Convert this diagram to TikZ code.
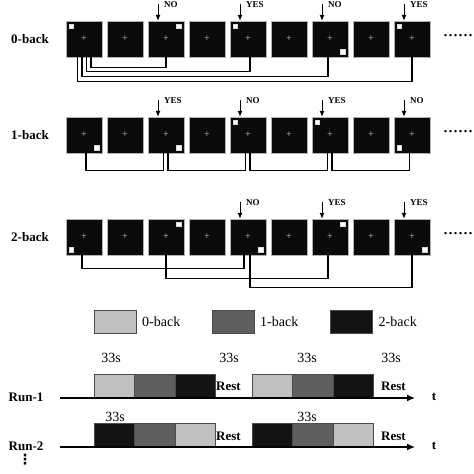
\documentclass[tikz,border=0pt]{standalone}
\usepackage{fontspec}
\setmainfont{Liberation Serif}
\newfontfamily\symfont{DejaVu Sans}
\usetikzlibrary{arrows.meta,positioning,calc}
\definecolor{zeroback}{HTML}{C0C0C0}
\definecolor{oneback}{HTML}{5F5F5F}
\definecolor{twoback}{HTML}{131313}

\begin{document}
\begin{tikzpicture}[
      x = 1pt,y = -1pt,
      frame/.style = {rectangle,draw = gray!60,fill = black!96,minimum size = 36pt,inner sep = 0,text = gray!85,font = \bfseries\fontsize{10}{10}\selectfont},
      dotbox/.style = {rectangle,fill = white,draw = gray!30,minimum size = 4.5pt,inner sep = 0},
      cue/.style = {-{Latex[length = 6pt,width = 5pt]},line width = 1pt},
      ans/.style = {font = \bfseries\fontsize{9}{9}\selectfont,anchor = west,inner sep = 0},
      link/.style = {line width = 1.2pt},
      rowname/.style = {font = \bfseries\fontsize{13}{13}\selectfont},
      key/.style = {rectangle,draw = black!70,minimum height = 23pt,minimum width = 42pt,inner sep = 0},
      block/.style = {rectangle,draw = black!70,minimum height = 23.5pt,minimum width = 40.33pt,inner sep = 0,anchor = south west},
      plain/.style = {font = \fontsize{14}{14}\selectfont},
      rest/.style = {font = \bfseries\fontsize{13}{13}\selectfont,anchor = west,inner sep = 0},
      axis/.style = {-{Latex[length = 8pt,width = 7pt]},line width = 1.3pt}
      ]
      \useasboundingbox (0,0) rectangle (474,474);

      \foreach \r/\y in {0/39,1/135,2/237} {
        \node (name\r)[rowname] at (30,\y) {\r-back};
        \foreach \i in {1,...,9}
          \node (s\r-\i)[frame] at ({84+41*(\i-1)},\y) {+};
        \node (more\r)[anchor = base west,inner sep = 0,font = \fontsize{20}{20}\selectfont] at (443,\y-3) {......};
      }

      \foreach \n/\a/\dx/\dy in {s0-1/north west/5.5/5.5, s0-3/north east/-5.5/5.5, s0-5/north west/5.5/5.5,
          s0-7/south east/-5.5/-5.5, s0-9/north west/5.5/5.5,
          s1-1/south east/-5.5/-5.5, s1-3/south east/-5.5/-5.5, s1-5/north west/5.5/5.5,
          s1-7/north west/5.5/5.5, s1-9/south west/5.5/-5.5,
          s2-1/south west/5.5/-5.5, s2-3/north east/-5.5/5.5, s2-5/south east/-5.5/-5.5,
          s2-7/north east/-5.5/5.5, s2-9/south east/-5.5/-5.5}
        \node[dotbox] at ([shift = {(\dx,\dy)}]\n.\a) {};

      \foreach \n/\t in {s0-3/NO,s0-5/YES,s0-7/NO,s0-9/YES,s1-3/YES,s1-5/NO,s1-7/YES,s1-9/NO,s2-5/NO,s2-7/YES,s2-9/YES} {
        \coordinate (\n-cue) at ([shift = {(-8,-17)}]\n.north);
        \draw[cue] (\n-cue) -- (\n.north -| \n-cue);
        \node[ans] at ([shift = {(6,1)}]\n-cue) {\t};
      }

      \draw[link] ([xshift = 7pt]s0-1.south) -- ++(0,10) -| (s0-3.south);
      \draw[link] ([xshift = 2.7pt]s0-1.south) -- ++(0,14) -| ([xshift = 2pt]s0-5.south);
      \draw[link] ([xshift = -2pt]s0-1.south) -- ++(0,19) -| ([xshift = -2pt]s0-7.south);
      \draw[link] ([xshift = -6.7pt]s0-1.south) -- ++(0,24) -| (s0-9.south);

      \foreach \a/\b in {1/3,3/5,5/7,7/9}
        \draw[link] ([xshift = 2pt]s1-\a.south) -- ++(0,17) -| ([xshift = -2.5pt]s1-\b.south);

      \draw[link] ([xshift = -2pt]s2-1.south) -- ++(0,13) -| ([xshift = -4pt]s2-5.south);
      \draw[link] (s2-3.south) -- ++(0,23) -| ([xshift = -2pt]s2-7.south);
      \draw[link] ([xshift = 2pt]s2-5.south) -- ++(0,32) -| (s2-9.south);

      \node (key0)[key,fill = zeroback] at (115,321.5) {};
      \node (key1)[key,fill = oneback] at (233,321.5) {};
      \node (key2)[key,fill = twoback] at (351.5,321.5) {};
      \node[plain,right = 2.5pt of key0] {0-back};
      \node[plain,right = 2.5pt of key1] {1-back};
      \node[plain,right = 2.5pt of key2] {2-back};

      \node (run1)[rowname] at (26,397) {Run-1};
      \node (run2)[rowname] at (26,446) {Run-2};
      \node (more)[anchor = base,inner sep = 0,font = \symfont\bfseries\fontsize{14}{14}\selectfont] at (25,464) {⋮};
      \node (t1)[rowname] at (434,397) {t};
      \node (t2)[rowname] at (434,446) {t};
      \coordinate (run1-from) at (60,398);
      \coordinate (run1-to) at (415,398);
      \coordinate (run2-from) at (60,447);
      \coordinate (run2-to) at (415,447);

      \foreach \c [count = \k] in {zeroback,oneback,twoback} {
        \node (r1a-\k)[block,fill = \c] at ({94+40.33*(\k-1)},398) {};
        \node (r1b-\k)[block,fill = \c] at ({252+40.33*(\k-1)},398) {};
      }
      \foreach \c [count = \k] in {twoback,oneback,zeroback} {
        \node (r2a-\k)[block,fill = \c] at ({94+40.33*(\k-1)},447) {};
        \node (r2b-\k)[block,fill = \c] at ({252+40.33*(\k-1)},447) {};
      }
      \draw[axis] (run1-from) -- (run1-to);
      \draw[axis] (run2-from) -- (run2-to);

      \node[rest] at (216,386) {Rest};
      \node[rest] at (381,386) {Rest};
      \node[rest] at (216,436) {Rest};
      \node[rest] at (381,436) {Rest};

      \node[plain] at (111,358) {33s};
      \node[plain] at (229,358) {33s};
      \node[plain] at (307,358) {33s};
      \node[plain] at (391,358) {33s};
      \node[plain] at (115,417) {33s};
      \node[plain] at (307,417) {33s};
    \end{tikzpicture}
\end{document}
